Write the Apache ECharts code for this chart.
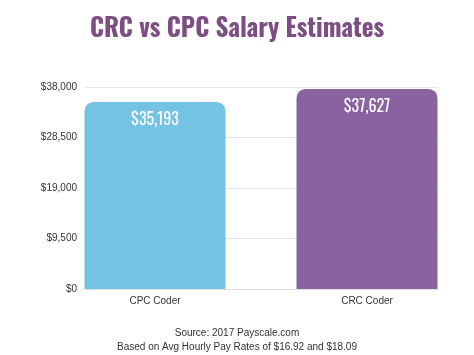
<!DOCTYPE html>
<html><head><meta charset="utf-8">
<script src="https://cdn.jsdelivr.net/npm/echarts@6/dist/echarts.min.js"></script>
<style>html,body{margin:0;padding:0;background:#fff}#c{width:474px;height:355px}</style>
</head><body><div id="c"></div>
<script>
const categories = ["CPC Coder", "CRC Coder"];
const salaries = [35193, 37627];
const barColors = ["#74c3e2", "#8963a0"];
const yTicks = [0, 9500, 19000, 28500, 38000];
const titleText = "CRC vs CPC Salary Estimates";
const sourceLines = ["Source: 2017 Payscale.com", "Based on Avg Hourly Pay Rates of $16.92 and $18.09"];

const yMin = yTicks[0], yMax = yTicks[yTicks.length - 1], yStep = yTicks[1] - yTicks[0];
const money = v => '$' + v.toLocaleString('en-US');
const sans = 'Liberation Sans, Arial, sans-serif';
const chart = echarts.init(document.getElementById('c'));
chart.setOption({
  animation: false,
  title: [{
    text: titleText, left: 'center', top: 12,
    textStyle: { fontFamily: 'Oswald', fontWeight: 'bold', fontSize: 25, color: '#7d4e83' }
  }, {
    text: sourceLines.join('\n'), left: 'center', top: 321,
    textStyle: { fontFamily: sans, fontWeight: 'normal', fontSize: 10, color: '#333', lineHeight: 14 }
  }],
  grid: [
    { left: 49, right: 1, top: 87, bottom: 66 },
    { left: 85, right: 36, top: 87, bottom: 66 }
  ],
  xAxis: [{
    gridIndex: 0, type: 'category', data: categories,
    axisLine: { show: false }, axisTick: { show: false },
    axisLabel: { color: '#333', fontSize: 10, fontFamily: sans, margin: 7 }
  }, {
    gridIndex: 1, type: 'value', min: 0, max: 1,
    axisLine: { show: true, onZero: false, lineStyle: { color: '#ddd' } }, axisTick: { show: false },
    axisLabel: { show: false }, splitLine: { show: false }
  }],
  yAxis: [{
    gridIndex: 0, type: 'value', min: yMin, max: yMax, interval: yStep,
    axisLine: { show: false }, axisTick: { show: false }, axisLabel: { show: false }, splitLine: { show: false }
  }, {
    gridIndex: 1, type: 'value', min: yMin, max: yMax, interval: yStep,
    axisLine: { show: false }, axisTick: { show: false },
    splitLine: { lineStyle: { color: '#e6e6e6' } },
    axisLabel: { color: '#333', fontSize: 10, fontFamily: sans, margin: 8, formatter: money }
  }],
  series: [{
    type: 'bar', xAxisIndex: 0, yAxisIndex: 0, barCategoryGap: '33.5%',
    data: salaries.map((v, i) => ({ value: v, itemStyle: { color: barColors[i], borderRadius: [9, 9, 0, 0] } })),
    label: { show: true, position: 'insideTop', distance: 10, color: '#fff', fontSize: 16,
      fontFamily: 'Oswald', formatter: p => money(p.value) }
  }]
});
</script></body></html>
